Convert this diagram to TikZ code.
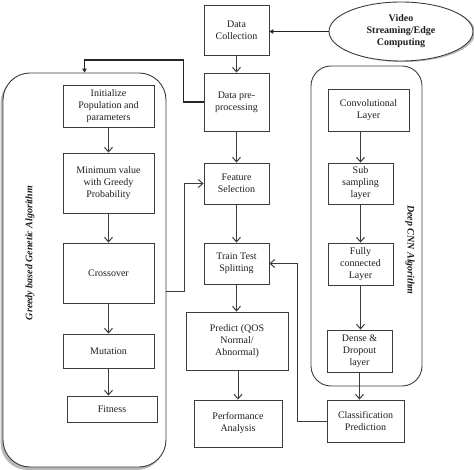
\documentclass[tikz,border=0pt]{standalone}
\usepackage{fontspec}
\setmainfont{Liberation Serif}
\usetikzlibrary{arrows.meta,shapes.geometric,calc}
\definecolor{ln}{HTML}{3C3C3C}
\definecolor{tx}{HTML}{1E1E1E}
\begin{document}
\begin{tikzpicture}[x=1pt,y=-1pt,
  box/.style={draw=ln,line width=0.9pt,align=center,inner sep=1pt,font=\fontsize{10}{12}\selectfont,text=tx},
  cont/.style={draw=ln,line width=0.9pt,fill=white},
  arr/.style={draw=ln,line width=1pt,-{Straight Barb[length=4.5pt,width=8pt]}},
  arrf/.style={draw=black!85,line width=1.4pt,-{Triangle[length=4pt,width=4.5pt]}},
  lab/.style={font=\fontsize{10}{12}\selectfont\bfseries\itshape,text=tx}]
\useasboundingbox (0,0) rectangle (474,470);
% shadows
\fill[gray!55,rounded corners=27pt] (0.5,76) rectangle (164,470);
\fill[gray!55] (403.5,32.5) ellipse [x radius=72pt,y radius=29.5pt];
% containers
\node[cont,minimum width=163pt,minimum height=394pt,inner sep=0pt,rounded corners=27pt] (ga) at (84.5,270) {};
\node[cont,minimum width=111pt,minimum height=320pt,inner sep=0pt,rounded corners=20pt] (cnn) at (366.5,226) {};
% ellipse
\node[ellipse,draw=ln,fill=white,line width=0.9pt,minimum width=144pt,minimum height=59pt,inner sep=0pt,align=center,font=\fontsize{10}{12}\selectfont\bfseries,text=tx] (vid) at (401,31.5) {Video\\Streaming/Edge\\Computing};
% center column
\node[box,minimum width=65pt,minimum height=50pt] (dc) at (236.5,30) {Data\\Collection};
\node[box,minimum width=65pt,minimum height=58pt] (dpp) at (236.5,102) {Data pre-\\processing};
\node[box,minimum width=65pt,minimum height=41pt] (fs) at (236.5,183.5) {Feature\\Selection};
\node[box,minimum width=65pt,minimum height=41pt] (tts) at (236.5,263.5) {Train Test\\Splitting};
\node[box,minimum width=102pt,minimum height=58pt] (pred) at (237,341) {Predict (QOS\\Normal/\\Abnormal)};
\node[box,minimum width=88pt,minimum height=47pt] (perf) at (238,423.5) {Performance\\Analysis};
% GA column
\node[box,minimum width=91pt,minimum height=42pt] (init) at (108.5,106) {Initialize\\Population and\\parameters};
\node[box,minimum width=91pt,minimum height=60pt] (minv) at (108.5,183) {Minimum value\\with Greedy\\Probability};
\node[box,minimum width=91pt,minimum height=60pt] (cross) at (108.5,273) {Crossover};
\node[box,minimum width=91pt,minimum height=34pt] (mut) at (108.5,351) {Mutation};
\node[box,minimum width=90pt,minimum height=26pt] (fit) at (112,409) {Fitness};
% CNN column
\node[box,minimum width=81pt,minimum height=42pt] (conv) at (368.5,110) {Convolutional\\Layer};
\node[box,minimum width=65pt,minimum height=41pt] (sub) at (360.5,183.5) {Sub\\sampling\\layer};
\node[box,minimum width=65pt,minimum height=42pt] (full) at (360.5,264) {Fully\\connected\\Layer};
\node[box,minimum width=65pt,minimum height=42pt] (dense) at (359.5,351) {Dense \&\\Dropout\\layer};
\node[box,minimum width=77pt,minimum height=42pt] (cls) at (365.5,421) {Classification\\Prediction};
% labels
\node[lab,rotate=90] (galab) at (30,253) {Greedy based Genetic Algorithm};
\node[lab,rotate=-90] (cnnlab) at (410,250) {Deep CNN Algorithm};
% arrows
\draw[arrf] (vid.west) -- (vid.west -| dc.east);
\draw[arr] (dc) -- (dpp);
\draw[arr] (dpp) -- (fs);
\draw[arr] (fs) -- (tts);
\draw[arr] (tts) -- (tts.south |- pred.north);
\draw[arr] (pred.south -| perf.north) -- (perf);
\draw[arrf] (dpp.west) -- ++(-20,0) -- ++(0,-42) -| (ga.north);
\draw[arr] (init) -- (minv);
\draw[arr] (minv) -- (cross);
\draw[arr] (cross) -- (mut);
\draw[arr] (mut.south) -- (mut.south |- fit.north);
\draw[arr] (ga.east |- 0,292) -- ++(18,0) |- (fs.west);
\draw[arr] (sub.north |- conv.south) -- (sub.north);
\draw[arr] (sub) -- (full);
\draw[arr] (full.south) -- (full.south |- dense.north);
\draw[arr] (dense.south) -- (dense.south |- cls.north);
\draw[arr] (cls.west) -- ++(-29,0) |- (tts.east);
\end{tikzpicture}
\end{document}
